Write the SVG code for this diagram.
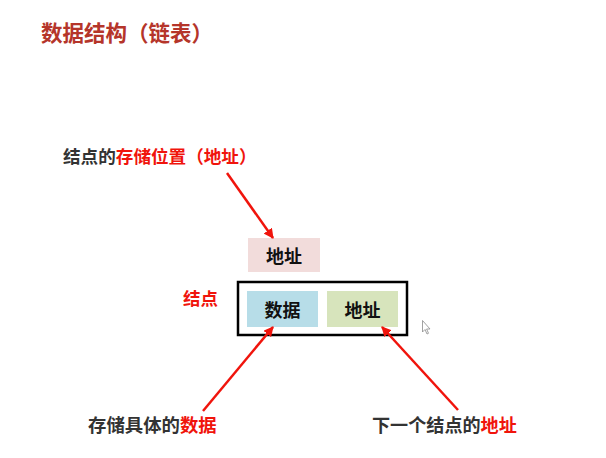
<svg xmlns="http://www.w3.org/2000/svg" width="606" height="458" viewBox="0 0 606 458">
<style>
  text { font-family: "Noto Sans CJK SC", "Noto Sans", sans-serif; font-weight: bold; }
  .dark { fill: #333333; }
  .red { fill: #f0140c; }
  .lbl { font-size: 18px; fill: #111111; text-anchor: middle; dominant-baseline: central; }
  .conn { stroke: #f0140c; stroke-width: 2.5; fill: none; marker-end: url(#ah); }
</style>
<defs>
  <marker id="ah" viewBox="0 0 10 10" refX="9" refY="5" markerWidth="4" markerHeight="4" orient="auto" markerUnits="strokeWidth">
    <path d="M0,0 L10,5 L0,10 z" fill="#f0140c"/>
  </marker>
</defs>
<rect width="606" height="458" fill="#ffffff"/>
<g id="title">
  <text x="41" y="41" font-size="21.5" fill="#b5352a">数据结构（链表）</text>
</g>
<g id="label-top">
  <text x="63" y="163" font-size="17.6"><tspan class="dark">结点的</tspan><tspan class="red">存储位置（地址）</tspan></text>
</g>
<g id="addr-box">
  <rect x="248" y="238" width="72" height="34" fill="#f2dcdb"/>
  <text class="lbl" x="284" y="255">地址</text>
</g>
<g id="node">
  <rect x="238" y="282" width="169" height="53" fill="#ffffff" stroke="#000000" stroke-width="2.5"/>
  <text x="183" y="305" font-size="17.5" class="red">结点</text>
</g>
<g id="data-box">
  <rect x="247" y="291" width="71" height="36" fill="#b7dde8"/>
  <text class="lbl" x="282.5" y="308.5">数据</text>
</g>
<g id="next-box">
  <rect x="327" y="291" width="71" height="36" fill="#d7e4bc"/>
  <text class="lbl" x="362.5" y="308.5">地址</text>
</g>
<g id="label-data">
  <text x="88" y="432" font-size="18.4"><tspan class="dark">存储具体的</tspan><tspan class="red">数据</tspan></text>
</g>
<g id="label-next">
  <text x="372" y="432" font-size="18.1"><tspan class="dark">下一个结点的</tspan><tspan class="red">地址</tspan></text>
</g>
<g id="connectors">
  <line class="conn" x1="227" y1="173" x2="273" y2="238"/>
  <line class="conn" x1="203" y1="411" x2="273" y2="327"/>
  <line class="conn" x1="458" y1="410" x2="382" y2="327"/>
</g>
<g id="cursor">
  <path d="M422.5,320.5 L422.5,332 L425,329.5 L427,334 L428.5,333.3 L426.6,329 L430,329 Z" fill="#ffffff" stroke="#8a8a8a" stroke-width="0.8"/>
</g>
</svg>
